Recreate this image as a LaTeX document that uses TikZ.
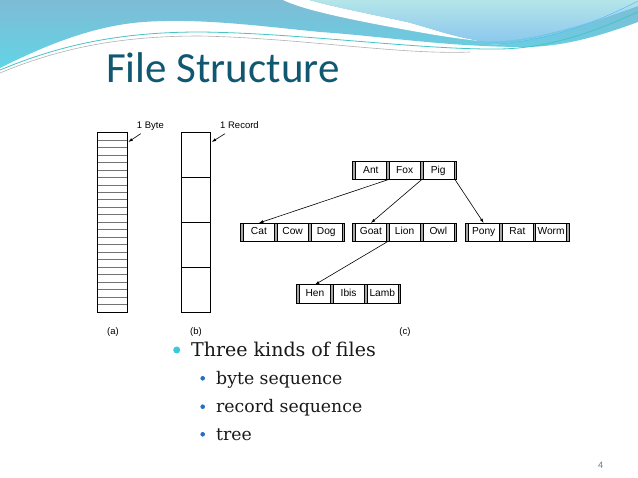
\documentclass[tikz,border=0pt]{standalone}
\usepackage{fontspec}
\setmainfont{DejaVu Serif}
\newfontfamily\titlefont{Carlito}
\newfontfamily\figfont{Liberation Sans}
\usetikzlibrary{arrows.meta}
\definecolor{titleteal}{RGB}{16,88,114}
\definecolor{bannerA}{RGB}{126,188,213}
\definecolor{bannerB}{RGB}{98,212,230}
\definecolor{paleA}{RGB}{180,229,233}
\definecolor{paleB}{RGB}{138,198,238}
\definecolor{thinteal}{RGB}{70,196,200}
\definecolor{bulcyan}{RGB}{60,200,215}
\definecolor{bulblue}{RGB}{40,110,195}
\definecolor{bodytext}{RGB}{25,25,25}
\definecolor{pagenum}{RGB}{95,125,160}
\newcommand{\btree}[6]{%
 \node[strip,anchor=north west] (#1s0) at (#2,#3) {};
 \node[keycell,anchor=north west] (#1k1) at (#1s0.north east) {#4};
 \node[strip,anchor=north west] (#1s1) at (#1k1.north east) {};
 \node[keycell,anchor=north west] (#1k2) at (#1s1.north east) {#5};
 \node[strip,anchor=north west] (#1s2) at (#1k2.north east) {};
 \node[keycell,anchor=north west] (#1k3) at (#1s2.north east) {#6};
 \node[strip,anchor=north west] (#1s3) at (#1k3.north east) {};
}
\begin{document}
\begin{tikzpicture}[x=1pt,y=-1pt,
  figtext/.style={font=\figfont\fontsize{9.5}{11}\selectfont, inner sep=0pt},
  keycell/.style={draw, line width=0.6pt, minimum width=31pt, minimum height=18.5pt, inner sep=0pt, outer sep=0pt, text height=7.4pt, text depth=2pt, font=\figfont\fontsize{10.2}{12}\selectfont},
  strip/.style={draw, line width=0.6pt, fill=black!35, minimum width=2.7pt, minimum height=18.5pt, inner sep=0pt, outer sep=0pt},
  colbox/.style={draw, line width=0.7pt, minimum width=29.6pt, minimum height=179.3pt, inner sep=0pt, outer sep=0pt},
  byterule/.style={black!55, line width=0.8pt},
  recrule/.style={black, line width=0.7pt},
  ptr/.style={line width=0.6pt, -{Latex[length=4.5pt,width=3pt]}},
  mainitem/.style={font=\fontsize{19}{23}\selectfont, text=bodytext, inner sep=0pt, anchor=base west},
  subitem/.style={font=\fontsize{17.3}{21}\selectfont, text=bodytext, inner sep=0pt, anchor=base west}
]
\useasboundingbox (0,0) rectangle (638,478);
\fill[white] (0,0) rectangle (638,478);

% ---- banner ----
\shade[top color=bannerA, bottom color=bannerB]
  (0,0) -- (638,0) -- (638,22) .. controls (600,36) and (560,48) .. (518,47)
  .. controls (440,46) and (380,36) .. (320,32)
  .. controls (260,26) and (200,18) .. (143,22)
  .. controls (90,26) and (40,48) .. (0,68) -- cycle;
\fill[white] (283,0) .. controls (300,8) and (330,16) .. (407,30)
  .. controls (440,36) and (460,39) .. (480,41)
  .. controls (450,36) and (430,28) .. (407,22)
  .. controls (360,12) and (330,6) .. (309,0) -- cycle;
\shade[top color=paleA, bottom color=paleB]
  (309,0) .. controls (330,6) and (360,12) .. (407,22)
  .. controls (430,28) and (450,36) .. (480,41)
  .. controls (510,44) and (560,34) .. (638,6) -- (638,0) -- cycle;
\draw[thinteal, line width=0.8pt] (0,70) .. controls (60,45) and (120,32) .. (200,32)
  .. controls (300,33) and (420,50) .. (500,49) .. controls (560,48) and (610,24) .. (638,12);
\draw[black!30, line width=0.6pt] (0,73) .. controls (60,48) and (120,36) .. (200,36)
  .. controls (300,38) and (400,55) .. (470,52);
\draw[white!60!cyan, line width=0.4pt] (490,45) .. controls (550,40) and (600,20) .. (638,4);
\draw[white!50!blue!60!cyan, line width=0.4pt] (500,44) .. controls (560,38) and (605,18) .. (638,1);

% ---- title ----
\node[font=\titlefont\fontsize{43}{50}\selectfont, text=titleteal, inner sep=0pt, anchor=base west] (title) at (106,83) {File Structure};

% ---- figure (a) ----
\node[colbox] (colA) at (112.5,222.3) {};
\foreach \i in {1,...,23} {
  \draw[byterule] ([yshift=-\i*7.47pt]colA.north west) -- ([yshift=-\i*7.47pt]colA.north east);
}
\node[figtext, anchor=base west] (bytelbl) at (136.7,128.3) {1 Byte};
\coordinate (byteFrom) at (140.7,133.7);
\coordinate (byteTip) at (128.3,142);
\draw[ptr] (byteFrom) -- (byteTip);
\node[figtext] (lbla) at (113,332) {(a)};

% ---- figure (b) ----
\node[colbox] (colB) at (195.7,222.3) {};
\foreach \i in {1,2,3} {
  \draw[recrule] ([yshift=-\i*44.83pt]colB.north west) -- ([yshift=-\i*44.83pt]colB.north east);
}
\node[figtext, anchor=base west] (reclbl) at (220,128.3) {1 Record};
\coordinate (recFrom) at (225,133.7);
\coordinate (recTip) at (211.7,142);
\draw[ptr] (recFrom) -- (recTip);
\node[figtext] (lblb) at (196,332) {(b)};

% ---- figure (c) ----
\btree{top}{352.7}{161.3}{Ant}{Fox}{Pig}
\btree{cat}{240.7}{223}{Cat}{Cow}{Dog}
\btree{goat}{352.7}{223}{Goat}{Lion}{Owl}
\btree{pony}{465.5}{223}{Pony}{Rat}{Worm}
\btree{hen}{296.7}{284.7}{Hen}{Ibis}{Lamb}
\draw[ptr] (tops1.south) -- (catk1.north);
\draw[ptr] (tops2.south) -- (goatk1.north);
\draw[ptr] (tops3.south) -- (ponyk1.north);
\draw[ptr] (goats1.south) -- (henk1.north);
\node[figtext] (lblc) at (405,332) {(c)};

% ---- bullets ----
\node[circle, fill=bulcyan, inner sep=0pt, minimum size=7pt] (b0) at (176.7,350) {};
\node[mainitem] (t0) at (191,356.7) {Three kinds of files};
\node[circle, fill=bulblue, inner sep=0pt, minimum size=4.6pt] (b1) at (202.7,378.3) {};
\node[subitem] (t1) at (216,385) {byte sequence};
\node[circle, fill=bulblue, inner sep=0pt, minimum size=4.6pt] (b2) at (202.7,406.7) {};
\node[subitem] (t2) at (216,412.7) {record sequence};
\node[circle, fill=bulblue, inner sep=0pt, minimum size=4.6pt] (b3) at (202.7,434.3) {};
\node[subitem] (t3) at (216,441) {tree};

% ---- page number ----
\node[font=\titlefont\fontsize{10}{12}\selectfont, text=pagenum, inner sep=0pt] (pnum) at (600.7,465) {4};
\end{tikzpicture}
\end{document}
